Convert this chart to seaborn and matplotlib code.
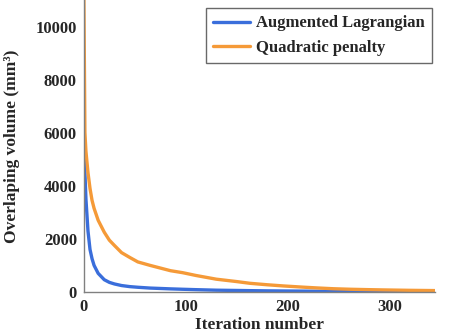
import numpy as np
import pandas as pd
import matplotlib
matplotlib.use("Agg")
import matplotlib.pyplot as plt
import seaborn as sns

# Convergence of overlapping volume per iteration for two constraint methods
iterations = [0, 1, 2, 4, 6, 8, 10, 14, 20, 25, 30, 37, 45, 53, 65, 75, 85, 97,
              110, 130, 150, 163, 180, 196, 215, 229, 245, 262, 280, 294, 320, 345]
augmented_lagrangian = [5600, 4500, 3500, 2300, 1600, 1250, 1000, 700, 460, 360, 300,
                        240, 200, 175, 145, 130, 115, 100, 85, 65, 55, 48, 40, 35,
                        30, 25, 20, 18, 15, 12, 10, 8]
quadratic_penalty = [11000, 6000, 5300, 4500, 3900, 3450, 3150, 2700, 2250, 1950, 1750,
                     1480, 1300, 1130, 1000, 900, 800, 725, 620, 480, 390, 325, 270,
                     225, 180, 150, 120, 100, 85, 75, 60, 50]
method_names = ["Augmented Lagrangian", "Quadratic penalty"]
x_ticks = [0, 100, 200, 300]
y_ticks = [0, 2000, 4000, 6000, 8000, 10000]

df = pd.concat([
    pd.DataFrame({"iteration": iterations, "volume": augmented_lagrangian,
                  "method": method_names[0]}),
    pd.DataFrame({"iteration": iterations, "volume": quadratic_penalty,
                  "method": method_names[1]}),
])

sns.set_theme(style="white")
plt.rcParams["font.family"] = ["Liberation Serif", "DejaVu Serif"]
plt.rcParams["font.weight"] = "bold"

fig = plt.figure(figsize=(4.74, 3.34), dpi=100)
ax = fig.add_axes([0.177, 0.126, 0.741, 0.874])

sns.lineplot(data=df, x="iteration", y="volume", hue="method",
             hue_order=method_names,
             palette={method_names[0]: "#3a6edb", method_names[1]: "#f59a38"},
             linewidth=2.4, ax=ax, legend=True)

ax.set_xlim(0, 345)
ax.set_ylim(0, 11000)
ax.set_xticks(x_ticks)
ax.set_yticks(y_ticks)
ax.tick_params(direction="in", length=3, width=0.8, color="#333333",
               labelsize=12, pad=5)
for lbl in ax.get_xticklabels() + ax.get_yticklabels():
    lbl.set_fontweight("bold")

for side in ["top", "right"]:
    ax.spines[side].set_visible(False)
for side in ["left", "bottom"]:
    ax.spines[side].set_color("#808080")
    ax.spines[side].set_linewidth(1.0)

ax.set_xlabel("Iteration number", fontsize=12.5, fontweight="bold", labelpad=1.5)
ax.set_ylabel("Overlaping volume (mm\u00b3)", fontsize=12.5, fontweight="bold",
              labelpad=11)

leg = ax.legend(loc="upper right", bbox_to_anchor=(0.991, 0.973),
                borderaxespad=0, frameon=True, fancybox=False,
                prop={"weight": "bold", "size": 12},
                handlelength=2.2, borderpad=0.45, labelspacing=0.5,
                handletextpad=0.35)
leg.get_frame().set_edgecolor("#444444")
leg.get_frame().set_linewidth(1.0)
for line in leg.get_lines():
    line.set_linewidth(2.4)

fig.savefig("out.png", dpi=100)
